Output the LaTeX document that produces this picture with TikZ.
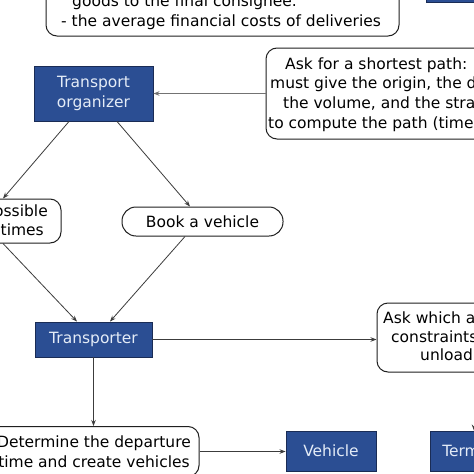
\documentclass[tikz,border=0pt]{standalone}
\usepackage{fontspec}
\setmainfont{DejaVu Sans}
\usetikzlibrary{arrows.meta}
\definecolor{boxblue}{HTML}{2B4E93}
\definecolor{boxborder}{HTML}{1A2C55}
\definecolor{boxtext}{HTML}{E4ECF7}
\definecolor{linegray}{HTML}{3C3C3C}
\begin{document}
\begin{tikzpicture}[x=1pt,y=-1pt,
  every node/.style={font=\fontsize{15.5}{19.7}\selectfont, inner sep=0pt},
  bluebox/.style={draw=boxborder, fill=boxblue, text=boxtext, line width=0.9pt},
  roundbox/.style={draw=black!88, fill=white, rounded corners=11pt, line width=1pt},
  txt/.style={anchor=base west},
  txte/.style={anchor=base east},
  arr/.style={draw=linegray, line width=0.8pt, -{Stealth[length=6pt,width=4.5pt]}}]
\useasboundingbox (0,0) rectangle (474,474);
\clip (0,0) rectangle (474,474);
\fill[white] (0,0) rectangle (474,474);
% top
\node[roundbox, minimum width=353, minimum height=96] (topbox) at (222.5,-12) {};
\node[txt] (top1) at (72,6.3) {goods to the final consignee.};
\node[txt] (top2) at (61,26) {- the average financial costs of deliveries};
\node[bluebox, minimum width=134, minimum height=42] (topright) at (493,-19) {};
% transport organizer
\node[bluebox, minimum width=119, minimum height=55, align=center] (org) at (93.5,93.5) {Transport\\organizer};
\node[roundbox, minimum width=254, minimum height=91] (askpath) at (393,93.5) {};
\node[txt] (ap1) at (285,69) {Ask for a shortest path:};
\node[txt] (ap2) at (270,88.7) {must give the origin, the destination,};
\node[txt] (ap3) at (283,108) {the volume, and the strategy};
\node[txt] (ap4) at (268,128) {to compute the path (time};
% middle
\node[roundbox, minimum width=151, minimum height=44] (possible) at (-14.5,221) {};
\node[txte] (pos1) at (48,216) {possible};
\node[txte] (pos2) at (44,235) {times};
\node[roundbox, rounded corners=14pt, minimum width=161, minimum height=29] (book) at (202.5,221.5) {Book a vehicle};
% transporter
\node[bluebox, minimum width=117, minimum height=35] (trans) at (93.5,339.5) {Transporter};
\node[roundbox, minimum width=200, minimum height=69] (askwhich) at (477,337.5) {};
\node[txt] (aw1) at (383,323) {Ask which are};
\node[txt] (aw2) at (391,342) {constraints};
\node[txt] (aw3) at (420,360.5) {unloading};
% bottom
\node[roundbox, minimum width=210, minimum height=50, align=center] (det) at (94,451.5) {Determine the departure\\time and create vehicles};
\node[bluebox, minimum width=90, minimum height=40] (veh) at (331,451) {Vehicle};
\node[bluebox, minimum width=90, minimum height=40] (term) at (475,451) {Terminal};
% connectors
\draw[arr, draw=black!55] (askpath) -- (org);
\draw[arr] ([xshift=-24.5pt]org.south) -- ([xshift=17.5pt]possible.north);
\draw[arr] ([xshift=23.5pt]org.south) -- ([xshift=-12.5pt]book.north);
\draw[arr] ([xshift=17.5pt]possible.south) -- ([xshift=-16.5pt]trans.north);
\draw[arr] ([xshift=-17.5pt]book.south) -- ([xshift=16.5pt]trans.north);
\draw[arr] (trans.east) -- (trans.east -| askwhich.west);
\draw[arr] (trans.south) -- (trans.south |- det.north);
\draw[arr] (det.east) -- (det.east -| veh.west);
\draw[arr] ([xshift=-3pt]askwhich.south) -- ([xshift=-3pt]askwhich.south |- term.north);
\end{tikzpicture}
\end{document}
